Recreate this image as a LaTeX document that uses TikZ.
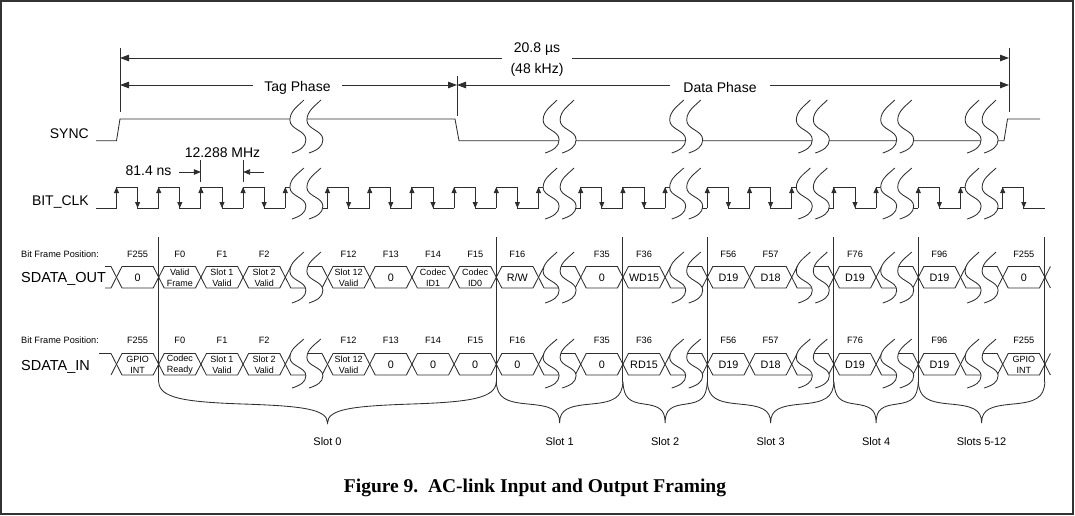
\documentclass[tikz,border=0pt]{standalone}
\usepackage{fontspec}
\setmainfont{Liberation Sans}
\newfontfamily\titlefont{Liberation Serif}
\usetikzlibrary{arrows.meta}
\newcommand{\fs}[1]{\fontsize{#1}{#1}\selectfont}
\newcommand{\rw}{R/W}
\newcommand{\Spath}[3]{({#1+6},{#2}) .. controls ({#1+1},{#2+0.1*(#3-#2)}) and ({#1-8},{#2+0.2*(#3-#2)}) .. ({#1-8},{#2+0.38*(#3-#2)}) .. controls ({#1-8},{#2+0.56*(#3-#2)}) and ({#1+8},{#2+0.57*(#3-#2)}) .. ({#1+8},{#2+0.75*(#3-#2)}) .. controls ({#1+8},{#2+0.88*(#3-#2)}) and ({#1+2},{#2+0.95*(#3-#2)}) .. ({#1-6},{#3})}
\newcommand{\Srev}[3]{({#1-6},{#3}) .. controls ({#1+2},{#2+0.95*(#3-#2)}) and ({#1+8},{#2+0.88*(#3-#2)}) .. ({#1+8},{#2+0.75*(#3-#2)}) .. controls ({#1+8},{#2+0.57*(#3-#2)}) and ({#1-8},{#2+0.56*(#3-#2)}) .. ({#1-8},{#2+0.38*(#3-#2)}) .. controls ({#1-8},{#2+0.2*(#3-#2)}) and ({#1+1},{#2+0.1*(#3-#2)}) .. ({#1+6},{#2})}
\newcommand{\brk}[3]{%
  \fill[white] \Spath{#1-8.5}{#2}{#3} -- \Srev{#1+8.5}{#2}{#3} -- cycle;
  \draw[sig] \Spath{#1-8.5}{#2}{#3};
  \draw[sig] \Spath{#1+8.5}{#2}{#3};}
\tikzset{
  sig/.style={draw=black!82, line width=0.85pt},
  dimarr/.style={sig, {Triangle[length=9pt,width=6.5pt]}-{Triangle[length=9pt,width=6.5pt]}},
  carr/.style={sig, -{Triangle[length=6pt,width=5pt]}},
  parr/.style={sig, -{Triangle[length=7pt,width=5.5pt]}},
  lbl/.style={inner sep=0pt, font=\fs{14}},
  small/.style={inner sep=0pt, font=\fs{9.2}},
  cellone/.style={inner sep=0pt, font=\fs{10.8}},
  celltwo/.style={inner sep=0pt, font=\fontsize{9}{10.5}\selectfont, align=center},
  slotlbl/.style={inner sep=0pt, font=\fs{11}},
  dimtxt/.style={inner sep=0pt, fill=white, font=\fs{14}}
}
\begin{document}
\begin{tikzpicture}[x=1pt,y=-1pt]
\useasboundingbox (0,0) rectangle (1075,515);
\draw[line width=2pt, black!80] (1,1) rectangle (1073,513.5);

% ---- dimension lines
\draw[sig] (120,48) -- (120,112);
\draw[sig] (457,76) -- (457,116);
\draw[sig] (1009,48) -- (1009,112);
\coordinate (dl) at (120,58); \coordinate (dr) at (1009,58);
\draw[dimarr] (dl) -- (dr);
\node[dimtxt, minimum width=70pt, minimum height=36pt, align=center, font=\fontsize{14}{21}\selectfont] (per) at (537,60) {20.8 µs\\(48 kHz)};
\coordinate (tl) at (120,85); \coordinate (tm) at (457,85); \coordinate (tr) at (1009,85);
\draw[dimarr] (tl) -- (tm);
\draw[dimarr] (tm) -- (tr);
\node[dimtxt, inner xsep=11pt, minimum height=12pt] (tag) at (297.5,87.5) {Tag Phase};
\node[dimtxt, inner xsep=13pt, minimum height=12pt] (data) at (720,87.5) {Data Phase};

% ---- labels
\node[lbl, anchor=base east] (syncl) at (89,138) {SYNC};
\node[lbl, anchor=base east] (clkl) at (89,205) {BIT\_CLK};
\node[lbl, anchor=base west, font=\fs{14.5}] (outl) at (21,282.7) {SDATA\_OUT};
\node[lbl, anchor=base west, font=\fs{14.5}] (inl) at (21,370) {SDATA\_IN};
\node[small, anchor=base west] (bfo) at (21,257) {Bit Frame Position:};
\node[small, anchor=base west] (bfi) at (21,343) {Bit Frame Position:};

% ---- SYNC
\draw[sig] (96,140.7) -- (116.5,140.7) -- (120,119) -- (455,119) -- (459,140.7) -- (1004,140.7) -- (1007.5,119) -- (1040,119);

% ---- BIT_CLK
\draw[sig] (96,208) -- (116.5,208);
\foreach \k in {0,...,21}{
  \pgfmathsetmacro\a{116.5+42.2*\k}
  \draw[sig] (\a,208) -- (\a,187) -- ({\a+21.1},187) -- ({\a+21.1},208) -- ({\a+42.2},208);
  \draw[carr] (\a,200) -- (\a,187);
}
\foreach \k in {0,1,2,3,5,6,7,8,9,11,12,14,15,17,19,21}{
  \pgfmathsetmacro\a{116.5+42.2*\k+21.1}
  \draw[carr] (\a,195) -- (\a,208);
}
% period annotation
\draw[sig] (200.9,160) -- (200.9,182);
\draw[sig] (243.1,160) -- (243.1,182);
\coordinate (pa) at (179,172); \coordinate (pb) at (200.9,172);
\coordinate (pc) at (264,172); \coordinate (pd) at (243.1,172);
\draw[parr] (pa) -- (pb);
\draw[parr] (pc) -- (pd);
\node[lbl, anchor=base] (ns) at (148.5,175.7) {81.4 ns};
\node[lbl, anchor=base] (mhz) at (222.5,157.7) {12.288 MHz};

% ---- data buses
\foreach \k in {0,...,21}{
  \pgfmathsetmacro\a{116.5+42.2*\k}
  \pgfmathsetmacro\c{\a+42.2}
  \draw[sig] (\a,277.25) -- ({\a+5.5},266.5) -- ({\c-5.5},266.5) -- (\c,277.25) -- ({\c-5.5},288) -- ({\a+5.5},288) -- cycle;
  \draw[sig] (\a,364.25) -- ({\a+5.5},353.5) -- ({\c-5.5},353.5) -- (\c,364.25) -- ({\c-5.5},375) -- ({\a+5.5},375) -- cycle;
}
\draw[sig] (105,266.5) -- (111,266.5) -- (116.5,277.25) -- (111,288) -- (105,288);
\draw[sig] (99,353.5) -- (111,353.5) -- (116.5,364.25) -- (111,375);
\draw[sig] (1050.4,266.5) -- (1044.9,277.25) -- (1050.4,288);
\draw[sig] (1050.4,353.5) -- (1044.9,364.25) -- (1050.4,375);

% ---- breaks
\foreach \k in {4,10,13,16,18,20}{
  \pgfmathsetmacro\m{116.5+42.2*\k+21.1}
  \brk{\m}{100}{153}
  \brk{\m}{168}{219}
  \brk{\m}{252}{303}
  \brk{\m}{339}{388}
}

% ---- frame position labels
\foreach \k/\f in {0/F255,1/F0,2/F1,3/F2,5/F12,6/F13,7/F14,8/F15,9/F16,11/F35,12/F36,14/F56,15/F57,17/F76,19/F96,21/F255}{
  \pgfmathsetmacro\x{116.5+42.2*\k+21.1}
  \node[small, anchor=base] (fo\k) at (\x,257.3) {\f};
  \node[small, anchor=base] (fi\k) at (\x,343.3) {\f};
}
% ---- cell texts
\foreach \k/\t in {0/0,6/0,9/\rw,11/0,12/WD15,14/D19,15/D18,17/D19,19/D19,21/0}{
  \pgfmathsetmacro\x{116.5+42.2*\k+21.1}
  \node[cellone] (o\k) at (\x,277.5) {\t};
}
\foreach \k/\t/\u in {1/Valid/Frame,2/Slot 1/Valid,3/Slot 2/Valid,5/Slot 12/Valid,7/Codec/ID1,8/Codec/ID0}{
  \pgfmathsetmacro\x{116.5+42.2*\k+21.1}
  \node[celltwo] (o\k) at (\x,277.8) {\t\\\u};
}
\foreach \k/\t in {6/0,7/0,8/0,9/0,11/0,12/RD15,14/D19,15/D18,17/D19,19/D19}{
  \pgfmathsetmacro\x{116.5+42.2*\k+21.1}
  \node[cellone] (i\k) at (\x,364.5) {\t};
}
\foreach \k/\t/\u in {0/GPIO/INT,1/Codec/Ready,2/Slot 1/Valid,3/Slot 2/Valid,5/Slot 12/Valid,21/GPIO/INT}{
  \pgfmathsetmacro\x{116.5+42.2*\k+21.1}
  \node[celltwo] (i\k) at (\x,364.8) {\t\\\u};
}

% ---- slot boundaries and braces
\foreach \k in {1,9,12,14,17,19,22}{
  \pgfmathsetmacro\a{116.5+42.2*\k}
  \draw[sig] (\a,237) -- (\a,382);
}
\foreach \p/\q/\t [count=\n] in {1/9/Slot 0,9/12/Slot 1,12/14/Slot 2,14/17/Slot 3,17/19/Slot 4,19/22/Slots 5-12}{
  \pgfmathsetmacro\xa{116.5+42.2*\p}
  \pgfmathsetmacro\xb{116.5+42.2*\q}
  \pgfmathsetmacro\xm{(\xa+\xb)/2}
  \pgfmathsetmacro\h{\xm-\xa}
  \draw[sig] (\xa,382) .. controls ({\xa+1},398) and ({\xa+0.15*\h},402) .. ({\xa+0.5*\h},404) .. controls ({\xm-0.15*\h},406) and (\xm,409) .. (\xm,423) .. controls (\xm,409) and ({\xm+0.15*\h},406) .. ({\xm+0.5*\h},404) .. controls ({\xb-0.15*\h},402) and ({\xb-1},398) .. (\xb,382);
  \node[slotlbl, anchor=base] (slot\n) at (\xm,445) {\t};
}

% ---- caption
\node[inner sep=0pt, anchor=base, font=\titlefont\bfseries\fs{19.5}] (cap) at (535,492) {Figure 9.\hspace{0.5em}AC-link Input and Output Framing};
\end{tikzpicture}
\end{document}
